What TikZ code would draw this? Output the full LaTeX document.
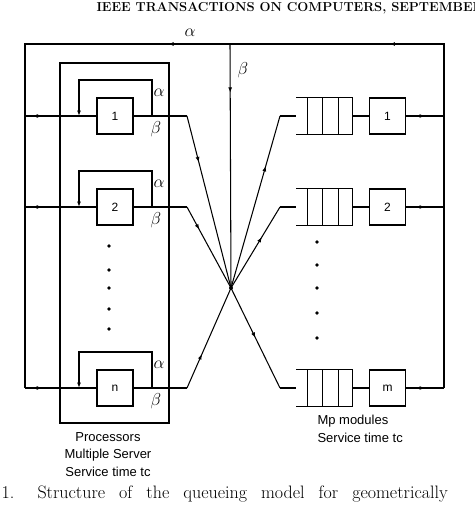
\documentclass[tikz,border=0pt]{standalone}
\usepackage{fontspec}
\usetikzlibrary{arrows.meta,calc,decorations.markings}
\newfontfamily\labelfont{Liberation Sans}

\begin{document}
\begin{tikzpicture}[x=1pt,y=-1pt,line width=1.05pt,
    >={Latex[length=5.5pt,width=4pt]},
    srv/.style={draw,minimum width=36,minimum height=36,inner sep=0pt,font=\labelfont\fontsize{12}{14}\selectfont},
    qbox/.style={minimum width=55,minimum height=36,inner sep=0pt},
    fwd/.style={postaction={decorate,decoration={markings,mark=at position #1 with {\arrow{>}}}}},
    greek/.style={inner sep=0pt,font=\fontsize{17.28}{19}\selectfont},
    txt/.style={inner sep=0pt,font=\labelfont\fontsize{13}{17.5}\selectfont}]
  \useasboundingbox (0,0) rectangle (474,506);
  \clip (0,0) rectangle (474,506);

  % page text around the figure
  \node[anchor=base west,inner sep=0pt,font=\bfseries\fontsize{13}{15}\selectfont] (head) at (96,11) {IEEE TRANSACTIONS ON COMPUTERS, SEPTEMBER};
  \node[anchor=base west,inner sep=0pt,font=\fontsize{18}{20}\selectfont] (fignum) at (1,498) {1.};
  \node[anchor=base west,inner sep=0pt,font=\fontsize{18}{20}\selectfont] (caption) at (37,498) {\spaceskip=14pt plus 2pt Structure of the queueing model for geometrically};

  \coordinate (tl) at (25,44);
  \coordinate (tm) at (230,44);
  \coordinate (tr) at (444,44);
  \coordinate (X) at (231,288);

  \node[draw,line width=1.4pt,minimum width=109,minimum height=360,inner sep=0pt] (procs) at (114.5,243) {};

  % processors
  \foreach \r/\y/\ap in {1/116/0.27,2/207/0.28,n/388/0.34}{
    \node[srv] (p\r) at (115,\y) {\r};
    \coordinate (in\r) at (25,\y);
    \coordinate (lp\r) at (152,\y);
    \coordinate (lt\r) at (79,\y-36);
    \coordinate (ld\r) at (79,\y);
    \coordinate (ob\r) at (187,\y);
    \draw[fwd=0.24] (in\r) -- (p\r);
    \draw (p\r) -- (ob\r);
    \draw[->] (lp\r) |- (lt\r) -- (ld\r);
    \draw[fwd=\ap] (ob\r) -- (X);
    \node[greek] (a\r) at (159,\y-23) {$\alpha$};
    \node[greek] (b\r) at (156,\y+13) {$\beta$};
  }

  % memory modules
  \foreach \r/\y/\ap in {1/116/0.71,2/207/0.63,m/388/0.5}{
    \node[qbox] (q\r) at (324.5,\y) {};
    \node[srv] (m\r) at (387.5,\y) {\r};
    \coordinate (qb\r) at (280,\y);
    \coordinate (out\r) at (444,\y);
    \draw[fwd=\ap] (X) -- (qb\r);
    \draw (qb\r) -- (q\r.west);
    \draw (q\r.north west) -- (q\r.north east) -- (q\r.south east) -- (q\r.south west);
    \foreach \f in {0.2,0.47,0.75}
      \draw ($(q\r.north west)!\f!(q\r.north east)$) -- ($(q\r.south west)!\f!(q\r.south east)$);
    \draw (q\r) -- (m\r);
    \draw[fwd=0.5] (m\r) -- (out\r);
  }

  \draw[fwd=0.36,fwd=0.56] (outm) -- (tr) -- (tl) -- (inn);
  \draw[fwd=0.2] (tm) -- (X);
  \fill (X) circle (2);

  \foreach \y in {246,270,288,309,329} \fill (109,\y) circle (1.9);
  \foreach \y in {242,265,288,313,338} \fill (317,\y) circle (1.9);

  \node[greek] (alpha) at (190,33) {$\alpha$};
  \node[greek] (beta) at (243,70) {$\beta$};
  \node[txt,align=center,anchor=north] (ptxt) at (108,432) {Processors\\Multiple Server\\Service time tc};
  \node[txt,align=left,anchor=north west] (mtxt) at (317,415) {Mp modules\\Service time tc};
\end{tikzpicture}
\end{document}
